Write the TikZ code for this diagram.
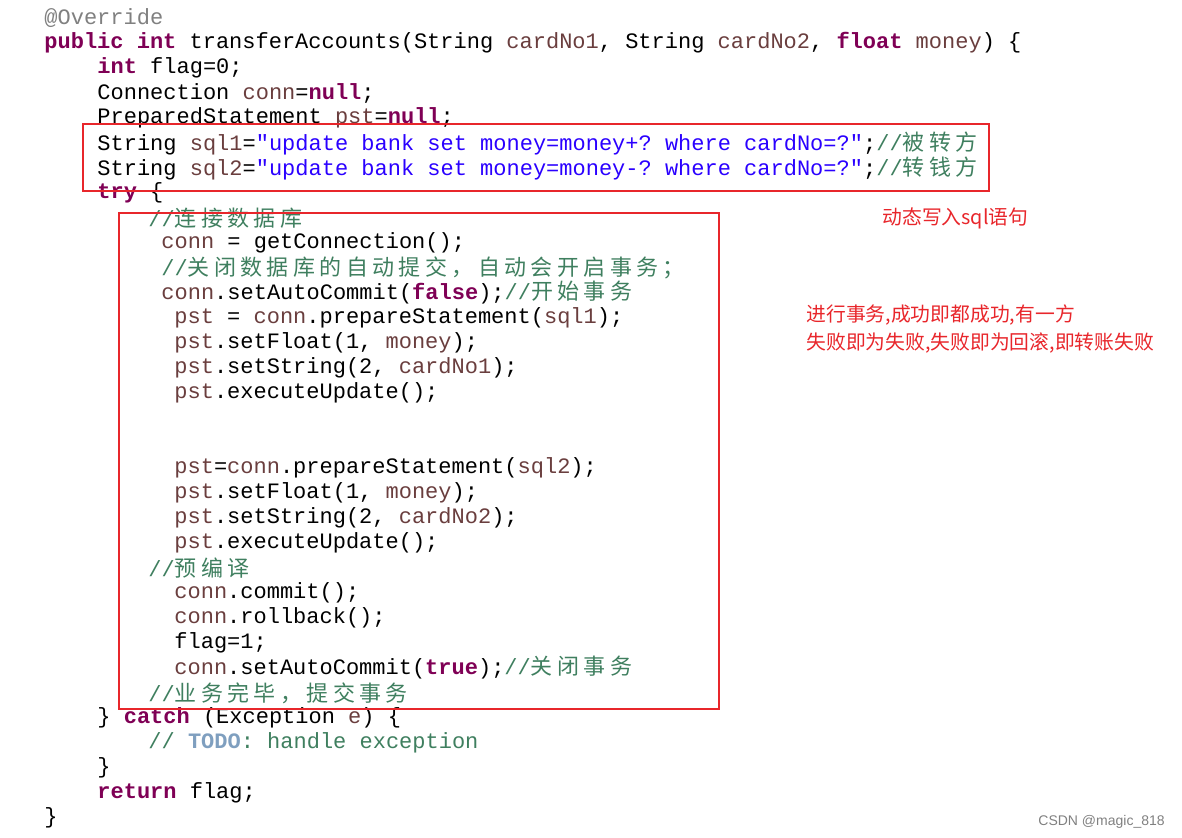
\documentclass[tikz,border=0pt]{standalone}
\usepackage{fontspec}
\setmainfont{Liberation Sans}
\setmonofont{Liberation Mono}
\newfontfamily\cjk[LetterSpace=20]{Noto Sans CJK SC}
\newfontfamily\cjknote{Noto Sans CJK SC}
\definecolor{kwcol}{HTML}{7F0055}
\definecolor{strcol}{HTML}{2A00FF}
\definecolor{cmcol}{HTML}{3F7F5F}
\definecolor{varcol}{HTML}{6A3E3E}
\definecolor{todocol}{HTML}{7F9FBF}
\definecolor{notecol}{HTML}{E8262B}
\newcommand{\kw}[1]{\textcolor{kwcol}{\bfseries #1}}
\newcommand{\str}[1]{\textcolor{strcol}{#1}}
\newcommand{\cm}[1]{\textcolor{cmcol}{#1}}
\newcommand{\vr}[1]{\textcolor{varcol}{#1}}
\newcommand{\zh}[1]{{\cjk #1}}
\tikzset{
  code/.style={anchor=west, inner sep=0pt, font=\ttfamily\fontsize{11}{12}\selectfont},
  markbox/.style={draw=notecol, line width=0.6pt},
  note/.style={anchor=west, inner sep=0pt, text=notecol, font=\cjknote\fontsize{9.9}{14}\selectfont, align=left}
}
\begin{document}
\begin{tikzpicture}[x=0.5pt,y=-0.5pt]
\useasboundingbox (0,0) rectangle (1182,838);
%Code lines
\node[code] (l01) at (44,18) {\textcolor{gray}{@Override}};
\node[code] (l02) at (44,43) {\kw{public} \kw{int} transferAccounts(String \vr{cardNo1}, String \vr{cardNo2}, \kw{float} \vr{money}) \{};
\node[code] (l03) at (97,68) {\kw{int} flag=0;};
\node[code] (l04) at (97,93) {Connection \vr{conn}=\kw{null};};
\node[code] (l05) at (97,118) {PreparedStatement \vr{pst}=\kw{null};};
\node[code] (l06) at (97,143) {String \vr{sql1}=\str{"update bank set money=money+? where cardNo=?"};\cm{//\zh{被转方}}};
\node[code] (l07) at (97,168) {String \vr{sql2}=\str{"update bank set money=money-? where cardNo=?"};\cm{//\zh{转钱方}}};
\node[code] (l08) at (97,193) {\kw{try} \{};
\node[code] (l09) at (148,218) {\cm{//\zh{连接数据库}}};
\node[code] (l10) at (161,243) {\vr{conn} = getConnection();};
\node[code] (l11) at (161,268) {\cm{//\zh{关闭数据库的自动提交，自动会开启事务；}}};
\node[code] (l12) at (161,293) {\vr{conn}.setAutoCommit(\kw{false});\cm{//\zh{开始事务}}};
\node[code] (l13) at (174,318) {\vr{pst} = \vr{conn}.prepareStatement(\vr{sql1});};
\node[code] (l14) at (174,343) {\vr{pst}.setFloat(1, \vr{money});};
\node[code] (l15) at (174,368) {\vr{pst}.setString(2, \vr{cardNo1});};
\node[code] (l16) at (174,393) {\vr{pst}.executeUpdate();};

\node[code] (l17) at (174,468) {\vr{pst}=\vr{conn}.prepareStatement(\vr{sql2});};
\node[code] (l18) at (174,493) {\vr{pst}.setFloat(1, \vr{money});};
\node[code] (l19) at (174,518) {\vr{pst}.setString(2, \vr{cardNo2});};
\node[code] (l20) at (174,543) {\vr{pst}.executeUpdate();};
\node[code] (l21) at (148,568) {\cm{//\zh{预编译}}};
\node[code] (l22) at (174,593) {\vr{conn}.commit();};
\node[code] (l23) at (174,618) {\vr{conn}.rollback();};
\node[code] (l24) at (174,643) {flag=1;};
\node[code] (l25) at (174,668) {\vr{conn}.setAutoCommit(\kw{true});\cm{//\zh{关闭事务}}};
\node[code] (l26) at (148,693) {\cm{//\zh{业务完毕，提交事务}}};
\node[code] (l27) at (97,718) {\} \kw{catch} (Exception \vr{e}) \{};
\node[code] (l28) at (148,743) {\cm{// }\textcolor{todocol}{\bfseries TODO}\cm{: handle exception}};
\node[code] (l29) at (97,768) {\}};
\node[code] (l30) at (97,793) {\kw{return} flag;};
\node[code] (l31) at (44,818) {\}};

%Boxes
\draw[markbox] (83,124) rectangle (989,191);
\draw[markbox] (119,213) rectangle (719,709);

%Notes
\node[note] (sqlnote) at (882,218) {动态写入sql语句};
\node[note, anchor=north west] (txnote) at (806,304) {进行事务,成功即都成功,有一方\\失败即为失败,失败即为回滚,即转账失败};
\node[anchor=west, inner sep=0pt, text=gray, font=\fontsize{7}{8}\selectfont] (mark) at (1038,822) {CSDN @magic\_818};
\end{tikzpicture}
\end{document}
